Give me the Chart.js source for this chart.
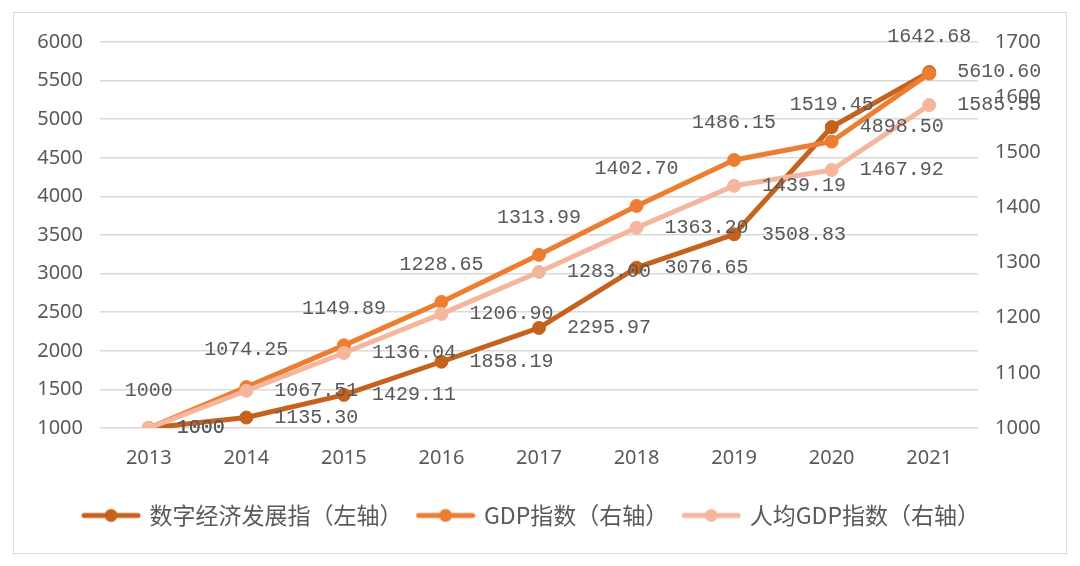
<!DOCTYPE html>
<html><head><meta charset="utf-8">
<script src="https://cdn.jsdelivr.net/npm/chart.js@4.4.1/dist/chart.umd.min.js"></script>
<style>
html,body{margin:0;padding:0;background:#fff;width:1080px;height:566px;overflow:hidden}
#frame{position:absolute;left:13px;top:12px;width:1052px;height:540px;border:1.5px solid #d9d9d9;}
#wrap{position:absolute;left:0;top:0;width:1080px;height:566px}
</style></head><body>
<div id="frame"></div>
<div id="wrap"><canvas id="c" width="1080" height="566"></canvas></div>
<script>
const years = ['2013','2014','2015','2016','2017','2018','2019','2020','2021'];
const digitalEconomy = [1000, 1135.30, 1429.11, 1858.19, 2295.97, 3076.65, 3508.83, 4898.50, 5610.60];
const gdpIndex = [1000, 1074.25, 1149.89, 1228.65, 1313.99, 1402.70, 1486.15, 1519.45, 1642.68];
const perCapitaGdpIndex = [1000, 1067.51, 1136.04, 1206.90, 1283.00, 1363.20, 1439.19, 1467.92, 1585.55];
const seriesNames = ['数字经济发展指（左轴）', 'GDP指数（右轴）', '人均GDP指数（右轴）'];
const leftAxisRange = [1000, 6000, 500];
const rightAxisRange = [1000, 1700, 100];

const colors = ['#C5631E', '#ED7D31', '#F4B69C'];
const labelPlacement = ['right', 'above', 'right'];
const TXT = '#595959';

function legendImage(color){
  const c = document.createElement('canvas');
  c.width = 60; c.height = 16;
  const x = c.getContext('2d');
  x.strokeStyle = color; x.lineWidth = 5; x.lineCap = 'round';
  x.beginPath(); x.moveTo(3, 8); x.lineTo(57, 8); x.stroke();
  x.fillStyle = color; x.beginPath(); x.arc(30, 8, 6.5, 0, Math.PI*2); x.fill();
  return c;
}
const legendImgs = colors.map(legendImage);

const valueLabels = {
  id: 'valueLabels',
  afterDatasetsDraw(chart){
    const ctx = chart.ctx;
    ctx.save();
    ctx.font = '20px "Liberation Mono"';
    ctx.fillStyle = TXT;
    ctx.textBaseline = 'middle';
    chart.data.datasets.forEach((ds, i) => {
      const meta = chart.getDatasetMeta(i);
      meta.data.forEach((pt, j) => {
        const v = ds.data[j];
        const txt = v === 1000 ? '1000' : v.toFixed(2);
        if (labelPlacement[i] === 'above') {
          ctx.textAlign = 'center';
          ctx.fillText(txt, pt.x, pt.y - 37);
        } else {
          ctx.textAlign = 'left';
          ctx.fillText(txt, pt.x + 28, pt.y);
        }
      });
    });
    ctx.restore();
  }
};

const tickFont = {family: '"Noto Sans", "Noto Sans CJK SC", sans-serif', size: 20};
const plainTick = v => String(v);

new Chart(document.getElementById('c'), {
  type: 'line',
  data: {
    labels: years,
    datasets: [
      {label: seriesNames[0], data: digitalEconomy, yAxisID: 'y', order: 3},
      {label: seriesNames[1], data: gdpIndex, yAxisID: 'y1', order: 2},
      {label: seriesNames[2], data: perCapitaGdpIndex, yAxisID: 'y1', order: 1}
    ].map((d, i) => Object.assign(d, {
      borderColor: colors[i], backgroundColor: colors[i],
      pointBackgroundColor: colors[i], pointBorderColor: colors[i],
      borderWidth: 5, pointRadius: 6.5, pointBorderWidth: 1, pointHoverRadius: 6.5,
      tension: 0, fill: false, borderJoinStyle: 'round', borderCapStyle: 'round'
    }))
  },
  options: {
    responsive: false,
    animation: false,
    devicePixelRatio: 1,
    layout: {padding: {top: 42, left: 6, right: 22, bottom: 29}},
    plugins: {
      tooltip: {enabled: false},
      legend: {
        position: 'bottom',
        labels: {
          usePointStyle: true,
          pointStyleWidth: 54,
          padding: 16,
          color: TXT,
          font: {family: '"Noto Sans CJK SC", sans-serif', size: 23},
          sort: (a, b) => a.datasetIndex - b.datasetIndex,
          generateLabels(chart){
            const items = Chart.defaults.plugins.legend.labels.generateLabels(chart);
            items.forEach(it => { it.pointStyle = legendImgs[it.datasetIndex]; it.fontColor = TXT; });
            return items;
          }
        }
      }
    },
    scales: {
      x: {
        offset: true,
        grid: {display: false},
        border: {display: false},
        ticks: {color: TXT, font: tickFont, padding: 10, maxRotation: 0},
        afterFit(s){ s.height = 60; }
      },
      y: {
        position: 'left',
        min: leftAxisRange[0], max: leftAxisRange[1],
        ticks: {stepSize: leftAxisRange[2], color: TXT, font: tickFont, padding: 17, callback: plainTick},
        grid: {color: '#d9d9d9', lineWidth: 1.5, drawTicks: false},
        border: {display: false},
        afterFit(s){ s.width = 94; }
      },
      y1: {
        position: 'right',
        min: rightAxisRange[0], max: rightAxisRange[1],
        ticks: {stepSize: rightAxisRange[2], color: TXT, font: tickFont, padding: 17, callback: plainTick},
        grid: {display: false, drawTicks: false},
        border: {display: false},
        afterFit(s){ s.width = 80; }
      }
    }
  },
  plugins: [valueLabels]
});
</script>
</body></html>
